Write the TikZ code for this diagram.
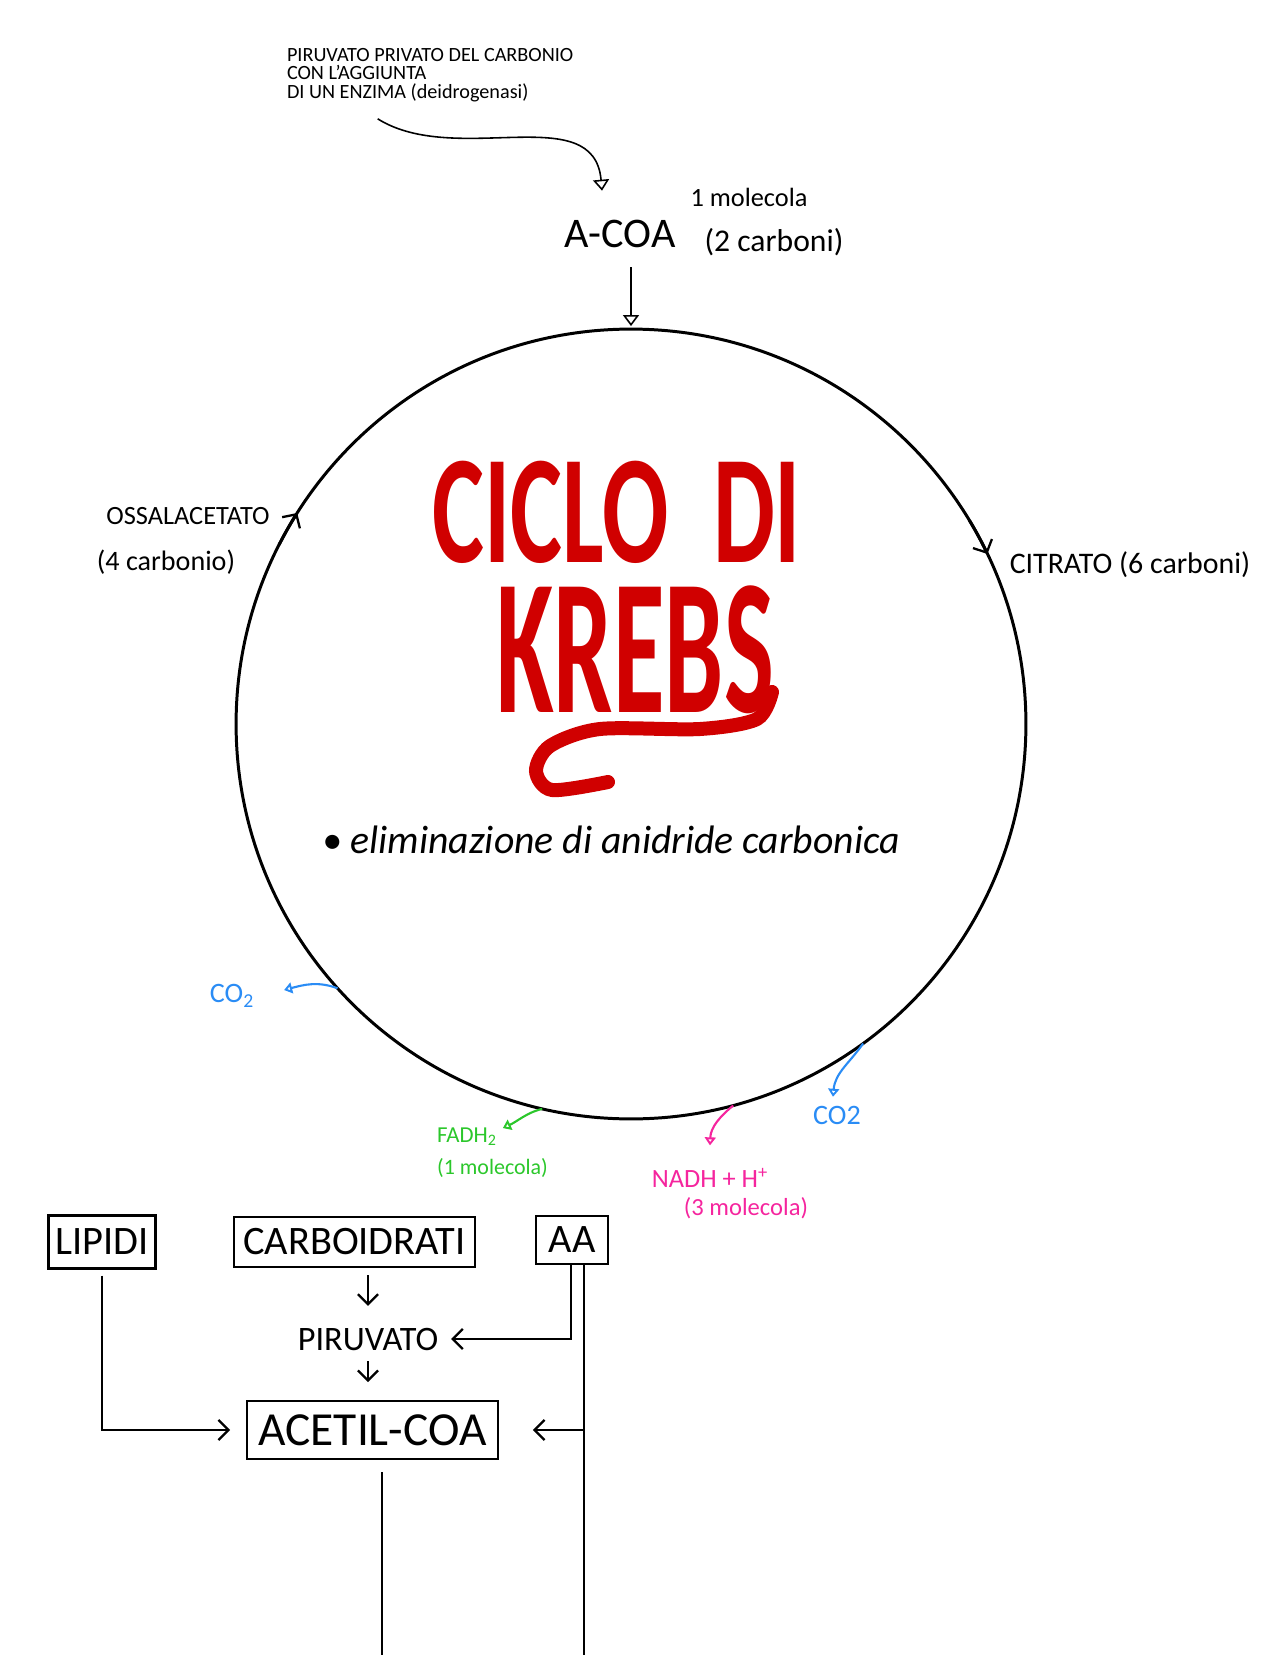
\documentclass[tikz,border=0pt]{standalone}
\usepackage{fontspec}
\setmainfont{Carlito}
\usepackage{graphicx}
\usetikzlibrary{positioning,arrows.meta}
\definecolor{Rosso}{HTML}{D00000}
\definecolor{Azzurro}{HTML}{2A8CF5}
\definecolor{Verde}{HTML}{2BC72B}
\definecolor{Fucsia}{HTML}{F5259E}

\begin{document}
\begin{tikzpicture}[
    x=0.02cm,y=0.02cm,
    every node/.style={inner sep=0pt,outer sep=0pt,align=center},
    ring/.style={circle,draw,line width=1.7pt,minimum size=15.8cm},
    note/.style={font=\fontsize{11.5}{10.6}\selectfont,align=left},
    tag/.style={font=\fontsize{#1}{#1}\selectfont},
    title/.style={text=Rosso,font=\fontsize{#1}{#1}\selectfont\bfseries},
    feed/.style={line width=0.9pt,-{Triangle[open,length=0.22cm,width=0.32cm,line width=0.9pt]}},
    turn/.style={line width=1.7pt,-{Straight Barb[length=0.2cm,width=0.42cm,line width=1.3pt]}},
    release/.style={line width=1.2pt,-{Triangle[open,length=0.16cm,width=0.22cm,line width=1.1pt]}},
    box/.style={draw,line width=1.6pt,font=\fontsize{23}{23}\selectfont},
    link/.style={line width=1.5pt},
    flow/.style={link,-{Straight Barb[length=0.2cm,width=0.4cm,line width=1.3pt]}}
  ]
    \useasboundingbox (0,0) rectangle (1280,-1655);
    \node[ring] (krebs) at (631,-724) {};
    \node[note,anchor=north west] (nota) at (287,-48) {PIRUVATO PRIVATO DEL CARBONIO\\CON L'AGGIUNTA\\DI UN ENZIMA (deidrogenasi)};
    \node[tag=24] (acoa) at (620,-234) {A-COA};
    \node[tag=15] (molecola) at (749,-197) {1 molecola};
    \node[tag=18] (carboni) at (774,-242) {(2 carboni)};
    \node[tag=15] (ossa) at (188,-516) {OSSALACETATO};
    \node[tag=16] (ossac) at (166,-562) {(4 carbonio)};
    \node[tag=17] (citrato) at (1130,-565) {CITRATO (6 carboni)};
    \node[title=88] (ciclo) at (617,-512) {\scalebox{0.635}[1]{CICLO\hspace{0.45em}DI}};
    \node[title=110] (krebsword) at (635,-650) {\scalebox{0.546}[1]{KREBS}};
    \draw[Rosso,line width=0.28cm,line cap=round] plot[smooth] coordinates {(772,-692) (757,-719) (700,-729) (600,-729) (550,-746) (536,-771) (552,-790) (608,-782)};
    \node[font=\itshape\fontsize{22.6}{22.6}\selectfont,anchor=base west] (elim) at (322,-853) {\textbullet\ eliminazione di anidride carbonica};
    \node[tag=16,text=Azzurro] (co2sx) at (232,-996) {CO\textsubscript{2}};
    \node[tag=16,text=Azzurro] (co2dx) at (837,-1115) {CO2};
    \node[tag=13,text=Verde] (fadh) at (467,-1137) {FADH\textsubscript{2}};
    \node[tag=12.5,text=Verde,below=0.26cm of fadh.south west,anchor=north west] (fadhn) {(1 molecola)};
    \node[tag=15,text=Fucsia] (nadh) at (710,-1178) {NADH + H\textsuperscript{+}};
    \node[tag=14,text=Fucsia] (nadhn) at (746,-1208) {(3 molecola)};
    \node[box,minimum width=2.14cm,minimum height=1.06cm] (lipidi) at (102,-1242) {LIPIDI};
    \node[box,minimum width=4.82cm,minimum height=1cm] (carbo) at (354.5,-1242) {CARBOIDRATI};
    \node[box,minimum width=1.44cm,minimum height=0.96cm] (aa) at (572,-1240) {AA};
    \node[tag=19.5] (piru) at (368,-1339) {PIRUVATO};
    \node[box,font=\fontsize{27}{27}\selectfont,minimum width=5.02cm,minimum height=1.16cm] (acetil) at (372.5,-1430) {ACETIL-COA};
    \coordinate (aa out) at (584,-1655);
    \coordinate (acetil out) at (382,-1655);
    \draw[feed] ([xshift=-1.05cm,yshift=-0.34cm]nota.south) to[out=-32,in=95] ([xshift=-0.36cm,yshift=0.59cm]acoa.north);
    \draw[feed,shorten <=0.39cm,shorten >=0.06cm] (acoa.south -| krebs.north) -- (krebs.north);
    \draw[turn] (krebs.153) arc[start angle=153,end angle=147.7,radius=7.9cm];
    \draw[turn] (krebs.31) arc[start angle=31,end angle=25.5,radius=7.9cm];
    \draw[release,Azzurro] (krebs.222) to[out=160,in=15] ([xshift=0.6cm,yshift=0.12cm]co2sx.east);
    \draw[release,Azzurro] (krebs.-54.3) to[out=-125,in=85] ([xshift=-0.08cm,yshift=0.18cm]co2dx.north);
    \draw[release,Verde] (krebs.257.4) to[out=195,in=25] ([xshift=0.12cm]fadh.north east);
    \draw[release,Fucsia] (krebs.-75.3) to[out=-140,in=88] ([yshift=0.46cm]nadh.north);
    \draw[flow,shorten <=0.16cm,shorten >=0.44cm] (carbo.south -| piru.north) -- (piru.north);
    \draw[flow,shorten <=0.22cm,shorten >=0.38cm] (piru.south) -- (piru.south |- acetil.north);
    \draw[flow,shorten >=0.26cm] ([xshift=-0.02cm]aa.south) |- (piru.east);
    \draw[link] (aa.south -| aa out) -- (aa out);
    \draw[flow,shorten >=0.7cm] (acetil.east -| aa out) -- (acetil.east);
    \draw[flow,shorten <=0.14cm,shorten >=0.34cm] (lipidi.south) |- (acetil.west);
    \draw[link,shorten <=0.26cm] (acetil.south -| acetil out) -- (acetil out);
  \end{tikzpicture}
\end{document}
